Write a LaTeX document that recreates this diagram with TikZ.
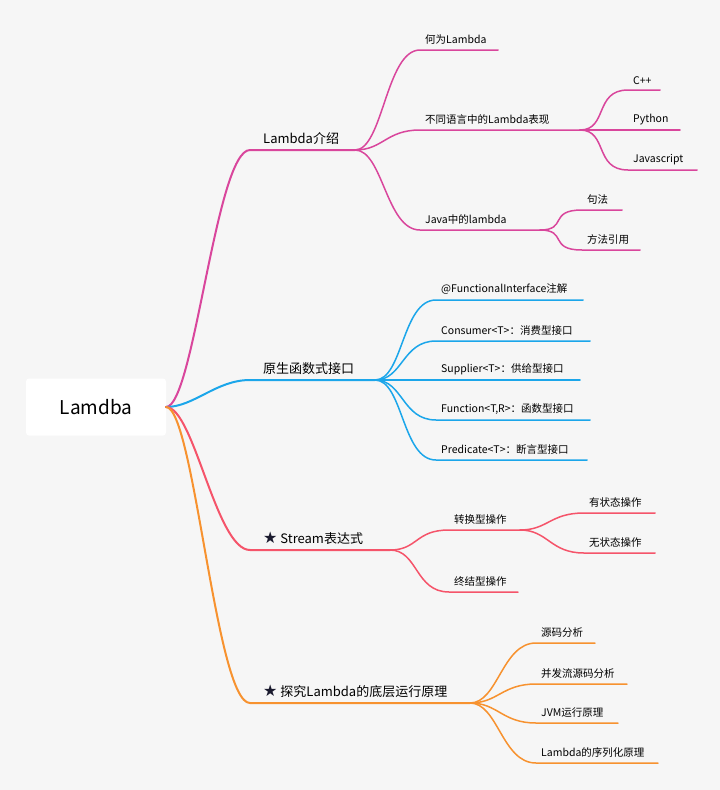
\documentclass[tikz,border=0pt]{standalone}
\usepackage{fontspec}
\setmainfont{Noto Sans CJK SC}
\newfontfamily\symfont{DejaVu Sans}
\definecolor{cpink}{HTML}{D9469C}
\definecolor{cblue}{HTML}{1BA6EA}
\definecolor{cred}{HTML}{F5546A}
\definecolor{corange}{HTML}{F7922F}
\definecolor{cbg}{HTML}{F6F6F6}
\definecolor{cstar}{HTML}{1A1A2E}
\newcommand{\mystar}{{\symfont\fontsize{16}{16}\selectfont\color{cstar}\char"2605}\ }
\tikzset{
  lbl/.style={anchor=south west,inner sep=0pt,font=\fontsize{10.5}{12}\selectfont},
  blbl/.style={anchor=south west,inner sep=0pt,xshift=8pt,font=\fontsize{13}{15}\selectfont},
  thick1/.style={line width=2pt,line cap=round},
  thin1/.style={line width=1.5pt,line cap=round},
}
% \leafx{name}{x0}{x1}{y}{text}{color}{parent}{style}{lblstyle}
\newcommand{\leafx}[9]{%
  \coordinate (#1s) at (#2,#4);
  \coordinate (#1e) at (#3,#4);
  \node[#9] (#1) at ([xshift=5pt,yshift=5pt]#1s) {#5};
  \draw[#8,#6] (#7) .. controls ([xshift=28pt]#7) and ([xshift=-34pt]#1s) .. (#1s) -- (#1e);
}
\begin{document}
\begin{tikzpicture}[x=1pt,y=-1pt]
\fill[cbg] (0,0) rectangle (720,790);
\useasboundingbox (0,0) rectangle (720,790);
\node[fill=white,rounded corners=3pt,minimum width=140pt,minimum height=57pt,font=\fontsize{19}{22}\selectfont] (root) at (96,407) {Lamdba};
\coordinate (r) at (166,407);
% main branches
\leafx{a}{250}{355}{150}{Lambda介绍}{cpink}{r}{thick1}{blbl}
\leafx{b}{250}{375}{380}{原生函数式接口}{cblue}{r}{thick1}{blbl}
\leafx{c}{250}{390}{550}{\mystar Stream表达式}{cred}{r}{thick1}{blbl}
\leafx{d}{250}{470}{703}{\mystar 探究Lambda的底层运行原理}{corange}{r}{thick1}{blbl}
% pink
\leafx{a1}{420}{498}{50}{何为Lambda}{cpink}{ae}{thin1}{lbl}
\leafx{a2}{420}{580}{130}{不同语言中的Lambda表现}{cpink}{ae}{thin1}{lbl}
\leafx{a3}{420}{540}{230}{Java中的lambda}{cpink}{ae}{thin1}{lbl}
\leafx{a21}{628}{660}{90}{C++}{cpink}{a2e}{thin1}{lbl}
\leafx{a22}{628}{680}{130}{Python}{cpink}{a2e}{thin1}{lbl}
\leafx{a23}{628}{697}{170}{Javascript}{cpink}{a2e}{thin1}{lbl}
\leafx{a31}{582}{622}{210}{句法}{cpink}{a3e}{thin1}{lbl}
\leafx{a32}{582}{640}{250}{方法引用}{cpink}{a3e}{thin1}{lbl}
% blue
\leafx{b1}{436}{583}{300}{@FunctionalInterface注解}{cblue}{be}{thin1}{lbl}
\leafx{b2}{436}{590}{341}{Consumer<T>：消费型接口}{cblue}{be}{thin1}{lbl}
\leafx{b3}{436}{580}{380}{Supplier<T>：供给型接口}{cblue}{be}{thin1}{lbl}
\leafx{b4}{436}{590}{420}{Function<T,R>：函数型接口}{cblue}{be}{thin1}{lbl}
\leafx{b5}{436}{587}{460}{Predicate<T>：断言型接口}{cblue}{be}{thin1}{lbl}
% red
\leafx{c1}{449}{520}{530}{转换型操作}{cred}{ce}{thin1}{lbl}
\leafx{c2}{449}{518}{592}{终结型操作}{cred}{ce}{thin1}{lbl}
\leafx{c11}{584}{655}{513}{有状态操作}{cred}{c1e}{thin1}{lbl}
\leafx{c12}{584}{655}{553}{无状态操作}{cred}{c1e}{thin1}{lbl}
% orange
\leafx{d1}{536}{595}{643}{源码分析}{corange}{de}{thin1}{lbl}
\leafx{d2}{536}{627}{684}{并发流源码分析}{corange}{de}{thin1}{lbl}
\leafx{d3}{536}{618}{723}{JVM运行原理}{corange}{de}{thin1}{lbl}
\leafx{d4}{536}{658}{763}{Lambda的序列化原理}{corange}{de}{thin1}{lbl}
\end{tikzpicture}
\end{document}
